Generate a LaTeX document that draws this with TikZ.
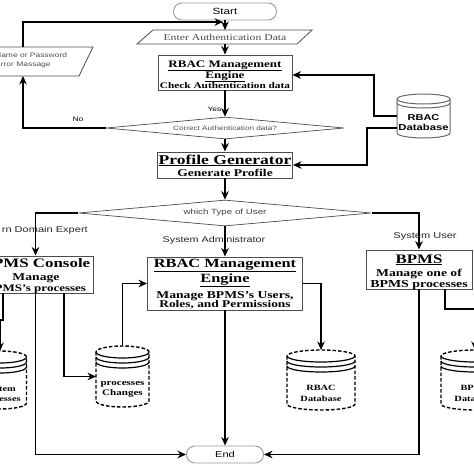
\documentclass[tikz,border=0pt]{standalone}
\usepackage{fontspec}
\setmainfont{Liberation Serif}
\setsansfont{Liberation Sans}
\usepackage{graphicx}
\usetikzlibrary{shapes.geometric,arrows.meta,calc}
\newcommand\myhs[1]{\scalebox{1.3}[1]{#1}}
\newcommand\myfs[1]{\fontsize{#1}{#1}\selectfont}
\newcommand\mycyl[8]{%
  \draw[#6] ({#1-#4},{#2+#5}) -- ({#1-#4},{#3-#5})
     arc[start angle=180,end angle=0,x radius=#4,y radius=#5]
     -- ({#1+#4},{#2+#5})
     arc[start angle=0,end angle=-180,x radius=#4,y radius=#5];
  \foreach \o in {#8} {\draw[#7] ({#1-#4},{#2+#5+\o}) arc[start angle=180,end angle=0,x radius=#4,y radius=#5];}
}
\begin{document}
\begin{tikzpicture}[x=1pt,y=-1pt,
  arr/.style={line width=1.8pt,-{Stealth[length=8.5pt,width=7.5pt]}},
  termbox/.style={draw=black!40,line width=0.9pt,rounded corners=8.4pt,fill=white,inner sep=0pt},
  procbox/.style={draw=black!70,line width=0.9pt,fill=white,inner sep=0pt},
  iobox/.style={draw=black!70,line width=0.8pt},
  decbox/.style={diamond,draw=black!70,line width=0.7pt,inner sep=0pt},
  hold/.style={inner sep=0pt,outer sep=0pt,draw=none},
  lbl/.style={inner sep=0pt,anchor=base},
  dbdash/.style={draw=black,line width=1.4pt,dash pattern=on 3.5pt off 2pt,fill=white},
  dbrim/.style={draw=black,line width=1.2pt},
  dbsolid/.style={draw=black!60,line width=1pt,fill=white},
  dbsrim/.style={draw=black!60,line width=1pt},
]
\useasboundingbox (0,0) rectangle (474,474);
\clip (0,0) rectangle (474,474);

% terminals
\node[termbox, minimum width=103pt, minimum height=17pt, font=\sffamily\myfs{9}] (start) at (225,11.5) {\myhs{Start}};
\node[termbox, minimum width=77pt, minimum height=17pt, font=\sffamily\myfs{8.5}] (end) at (225,454.5) {\myhs{End}};

% enter authentication data
\draw[iobox] (153,30) -- (312,30) -- (297,44) -- (137,44) -- cycle;
\node[hold, minimum width=150pt, minimum height=14pt, font=\myfs{9}, text=black!70] (enter) at (225,37) {\myhs{Enter Authentication Data}};

% error message
\draw[iobox] (-40,47) -- (93,47) -- (79,76) -- (-54,76) -- cycle;
\node[hold, minimum width=100pt, minimum height=29pt] (err) at (23,61.5) {};
\node[inner sep=0pt, anchor=base west, font=\sffamily\myfs{6.5}, text=black!70] (errt1) at (-5,57) {\myhs{Name or Password}};
\node[inner sep=0pt, anchor=base west, font=\sffamily\myfs{6.5}, text=black!70] (errt2) at (-5,66) {\myhs{Error Massage}};

% RBAC management engine (top)
\node[procbox, minimum width=134pt, minimum height=35pt] (rbac1) at (225,72.5) {};
\node[lbl, font=\bfseries\myfs{10}] (rbac1a) at (225,67) {\myhs{\underline{RBAC Management}}};
\node[lbl, font=\bfseries\myfs{10}] (rbac1b) at (225,78) {\myhs{\underline{Engine}}};
\node[lbl, font=\bfseries\myfs{8.7}] (rbac1c) at (225,88) {\myhs{Check Authentication data}};

% decision 1
\node[decbox, aspect=10.8, minimum width=238pt, minimum height=22pt, font=\sffamily\myfs{6.3}, text=black!70] (d1) at (225,128) {\myhs{Correct Authentication data?}};
\node[lbl, font=\sffamily\myfs{6.5}] (yes) at (214.5,111) {\myhs{Yes}};
\node[lbl, font=\sffamily\myfs{6.5}] (no) at (78,121) {\myhs{No}};

% top RBAC database
\mycyl{423.5}{94}{138}{26.5}{5}{dbsolid}{dbsrim}{0,4}
\node[hold, minimum width=53pt, minimum height=44pt] (db1) at (423.5,116) {};
\node[lbl, font=\sffamily\bfseries\myfs{8.5}] (db1a) at (423.5,120.5) {\myhs{RBAC}};
\node[lbl, font=\sffamily\bfseries\myfs{8.7}] (db1b) at (423.5,130.5) {\myhs{Database}};

% profile generator
\node[procbox, minimum width=135pt, minimum height=26pt] (prof) at (225,165) {};
\node[lbl, font=\bfseries\myfs{13.5}] (profa) at (225,164) {\myhs{\underline{Profile Generator}}};
\node[lbl, font=\bfseries\myfs{10.4}] (profb) at (225,176.5) {\myhs{Generate Profile}};

% decision 2
\node[decbox, aspect=11.3, minimum width=293pt, minimum height=26pt, font=\sffamily\myfs{7.5}, text=black!75] (d2) at (225,213) {\myhs{which Type of User}};

% role labels
\node[lbl, font=\sffamily\myfs{8.3}, text=black!85] (lsa) at (214,242) {\myhs{System Administrator}};
\node[lbl, font=\sffamily\myfs{8.5}, text=black!85] (lsu) at (425,238) {\myhs{System User}};
\node[inner sep=0pt, anchor=base east, font=\sffamily\myfs{8.5}, text=black!85] (lde) at (88,232) {\myhs{rn Domain Expert}};

% BPMS console
\node[procbox, minimum width=115pt, minimum height=37pt] (console) at (35.5,274.5) {};
\node[lbl, font=\bfseries\myfs{13}] (cona) at (36,267) {\myhs{BPMS Console}};
\node[lbl, font=\bfseries\myfs{10.5}] (conb) at (36,280) {\myhs{Manage}};
\node[lbl, font=\bfseries\myfs{10}] (conc) at (36,291) {\myhs{BPMS's processes}};

% RBAC management engine (middle)
\node[procbox, minimum width=155pt, minimum height=53pt] (rbac2) at (225,283.5) {};
\node[lbl, font=\bfseries\myfs{12.6}] (rbac2a) at (225,267) {\myhs{\underline{RBAC Management}}};
\node[lbl, font=\bfseries\myfs{12.6}] (rbac2b) at (225,282) {\myhs{\underline{Engine}}};
\node[lbl, font=\bfseries\myfs{10.5}] (rbac2c) at (225,298) {\myhs{Manage BPMS's Users,}};
\node[lbl, font=\bfseries\myfs{10.3}] (rbac2d) at (225,307.5) {\myhs{Roles, and Permissions}};

% BPMS
\node[procbox, minimum width=106pt, minimum height=39pt] (bpms) at (419,269.5) {};
\node[lbl, font=\bfseries\myfs{13}] (bpmsa) at (419,263) {\myhs{\underline{BPMS}}};
\node[lbl, font=\bfseries\myfs{10.5}] (bpmsb) at (419,276) {\myhs{Manage one of}};
\node[lbl, font=\bfseries\myfs{10.7}] (bpmsc) at (419,287) {\myhs{BPMS processes}};

% dashed databases
\mycyl{0}{351}{409}{26.5}{6}{dbdash}{dbrim}{0,5,10}
\node[hold, minimum width=53pt, minimum height=58pt] (ldb) at (0,380) {};
\node[lbl, font=\bfseries\myfs{8}] (ldba) at (0,391) {\myhs{System}};
\node[lbl, font=\bfseries\myfs{8}] (ldbb) at (0,401) {\myhs{processes}};

\mycyl{122.5}{346}{407}{26.5}{6}{dbdash}{dbrim}{0,5,10}
\node[hold, minimum width=53pt, minimum height=61pt] (pc) at (122.5,376.5) {};
\node[lbl, font=\bfseries\myfs{8.5}] (pca) at (122.5,385.5) {\myhs{processes}};
\node[lbl, font=\bfseries\myfs{8.5}] (pcb) at (122.5,395.5) {\myhs{Changes}};

\mycyl{321}{350}{410}{34}{6}{dbdash}{dbrim}{0,5,10}
\node[hold, minimum width=68pt, minimum height=60pt] (rdb) at (321,380) {};
\node[lbl, font=\bfseries\myfs{8}] (rdba) at (321,390) {\myhs{RBAC}};
\node[lbl, font=\bfseries\myfs{8}] (rdbb) at (321,401) {\myhs{Database}};

\mycyl{475}{350}{410}{34}{6}{dbdash}{dbrim}{0,5,10}
\node[hold, minimum width=68pt, minimum height=60pt] (bdb) at (475,380) {};
\node[lbl, font=\bfseries\myfs{8}] (bdba) at (475,390) {\myhs{BPMS}};
\node[lbl, font=\bfseries\myfs{8}] (bdbb) at (475,401) {\myhs{Database}};

% connectors
\coordinate (jn) at (223,22);
\draw[arr] (start.south) -- (enter.north);
\draw[arr] (err.north) |- (jn);
\draw[arr] (enter.south) -- (rbac1.north);
\draw[arr] (rbac1.south) -- (d1.north);
\draw[arr] (d1.west) -| (err.south);
\draw[arr] (d1.south) -- (prof.north);
\draw[arr] (db1.west) -- ++(-23,0) |- ($(rbac1.east)+(0,2.5)$);
\draw[arr] ($(db1.west)+(0,12)$) -- ++(-30,0) |- (prof.east);
\draw[arr] (prof.south) -- (d2.north);
\draw[arr] (d2.west) -| (console.north);
\draw[arr] (d2.south) -- (rbac2.north);
\draw[arr] (d2.east) -| (bpms.north);
\draw[arr] ($(console.south)+(-32.5,0)$) |- ($(ldb.north)+(0,-31)$) -- (ldb.north);
\draw[arr] (console.south) |- (end.west);
\draw[arr] ($(console.south)+(28.5,0)$) |- (pc.west);
\draw[arr] (pc.north) |- (rbac2.west);
\draw[arr] (rbac2.south) -- (end.north);
\draw[arr] (rbac2.east) -| (rdb.north);
\draw[arr] (bpms.south) |- (end.east);
\draw[arr] ($(bpms.south)+(26,0)$) |- ($(bdb.north)+(0,-41)$) -- (bdb.north);
\end{tikzpicture}
\end{document}
